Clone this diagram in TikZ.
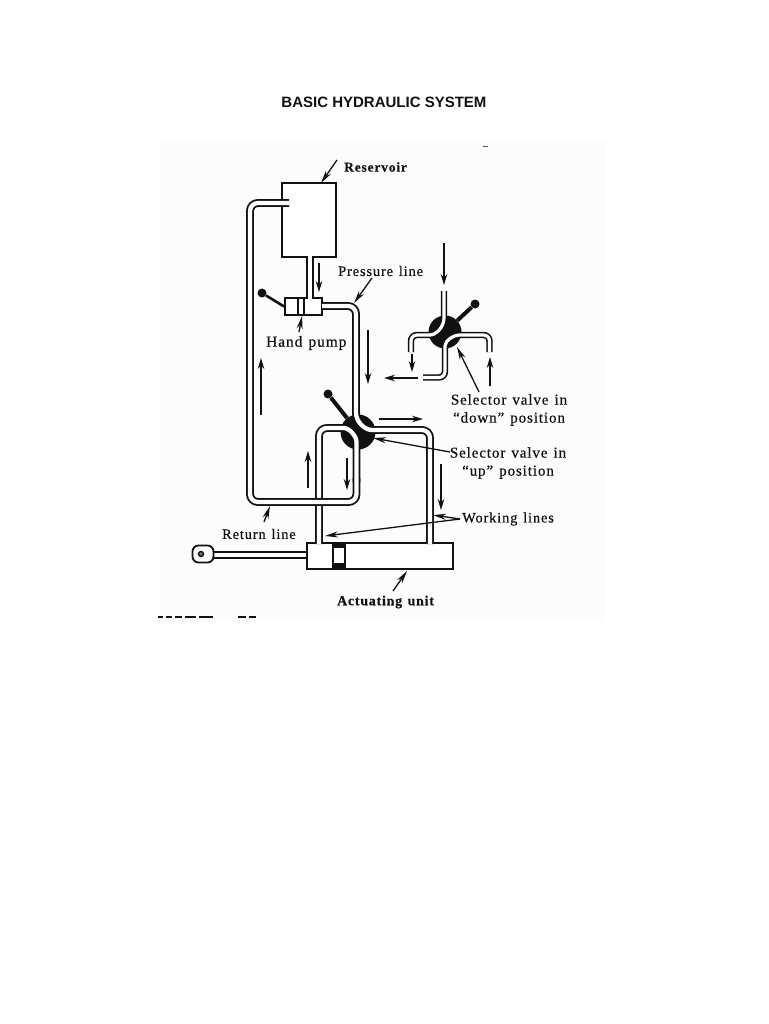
\documentclass[tikz,border=0pt]{standalone}
\usepackage{fontspec}
\setmainfont{Liberation Serif}
\newfontfamily\titlefont{Liberation Sans}
\newfontfamily\labelfont[LetterSpace=6,WordSpace=1.3,FakeBold=0.5]{Liberation Serif}
\usetikzlibrary{arrows.meta}
\definecolor{ink}{HTML}{111111}
\tikzset{
  box/.style={draw=ink,line width=1.9pt,fill=white,inner sep=0pt,rectangle},
  pipe/.style={draw=ink,line width=1.8pt,double=white,double distance=4.3pt,rounded corners=8pt},
  pipethin/.style={draw=ink,line width=1.6pt,double=white,double distance=3.2pt,rounded corners=6pt},
  flow/.style={draw=ink,line width=1.1pt,-{Stealth[length=11pt,width=6.5pt]}},
  pointer/.style={draw=ink,line width=1.3pt,-{Stealth[length=13pt,width=6pt]}},
  lever/.style={draw=ink,line width=4pt},
  knob/.style={circle,fill=ink,inner sep=0pt,minimum size=9pt},
  blob/.style={circle,fill=ink,inner sep=0pt,minimum size=35pt},
  lbl/.style={font=\labelfont\fontsize{14.4}{17}\selectfont,text=ink,align=center,inner sep=0pt}
}
\begin{document}
\begin{tikzpicture}[x=1pt,y=-1pt]
\useasboundingbox (0,0) rectangle (768,1024);
\fill[white] (0,0) rectangle (768,1024);
\fill[black!1] (160,140) rectangle (606,622);
\node[font=\titlefont\bfseries\fontsize{15}{17}\selectfont,text=ink,inner sep=0pt] (title) at (384,102) {BASIC HYDRAULIC SYSTEM};

% actuating unit
\node[draw=ink,line width=1.6pt,minimum width=100pt,minimum height=6pt,inner sep=0pt,fill=white] (rod) at (260,555) {};
\node[box,minimum width=146pt,minimum height=26pt] (actuator) at (380,556) {};
\node[draw=ink,line width=1.2pt,fill=white,inner sep=0pt,minimum width=12pt,minimum height=26pt] (piston) at (339,556) {};
\fill[ink] (333,543) rectangle (345,548);
\fill[ink] (333,563) rectangle (345,569);
\node[draw=ink,line width=1.8pt,fill=white,rounded corners=6pt,minimum width=21pt,minimum height=17pt,inner sep=0pt] (eye) at (203,554) {};
\node[circle,draw=ink,line width=1.4pt,fill=ink!60,inner sep=0pt,minimum size=5pt] (eyehole) at (201,554) {};

% reservoir and pump
\node[box,minimum width=54pt,minimum height=74pt] (reservoir) at (309,220) {};
\node[box,minimum width=37pt,minimum height=17pt] (pump) at (303.5,306.5) {};
\node[draw=ink,line width=1.6pt,minimum width=6pt,minimum height=17pt,inner sep=0pt] (pumpseal) at (301,306.5) {};
\node[knob] (pumpknob) at (262,293) {};
\draw[lever,line width=2.6pt] (pumpknob) -- (pump.west);
\coordinate (outTop) at (310,256);
\coordinate (outBot) at (310,299);
\draw[pipe] (outTop) -- (outBot);

% up-position valve
\node[blob] (valve) at (358,432) {};
\node[knob] (valveknob) at (328,394) {};
\draw[lever] (valveknob) -- (valve);
\coordinate (retTop) at (289,203);
\coordinate (actL) at (319,544);
\coordinate (actR) at (430,544);
\coordinate (pumpOut) at (322,306);
\draw[pipe] (actL) -- (319,428) -- (336,428) .. controls (349,428) and (356.5,436) .. (356.5,450) -- (356.5,482);
\draw[pipe] (356.5,478) -- (356.5,502) -- (250,502) -- (250,203) -- (retTop);
\draw[pipe] (pumpOut) -- (356,306) -- (356,405) .. controls (356,421) and (364,430) .. (380,430) -- (430,430) -- (actR);

% down-position valve
\node[blob,minimum size=33pt] (valveB) at (445,332) {};
\node[knob] (valveBknob) at (475,304) {};
\draw[lever] (valveBknob) -- (valveB);
\coordinate (bTop) at (444,291);
\coordinate (bLeft) at (411,352);
\coordinate (bRight) at (489.5,352);
\coordinate (bOut) at (423,377.5);
\draw[pipethin] (bTop) -- (444,312) .. controls (444,327) and (436,335) .. (424,335) -- (411,335) -- (bLeft);
\draw[pipethin] (bRight) -- (489.5,335) -- (466,335) .. controls (453,335) and (445,341) .. (445,352) -- (445,377.5) -- (bOut);

% flow arrows
\draw[flow] (319,263) -- (319,292);
\draw[flow] (368,330) -- (368,384);
\draw[flow] (261,415) -- (261,358);
\draw[flow] (379,419) -- (423,419);
\draw[flow] (308,488) -- (308,451);
\draw[flow] (347,458) -- (347,490);
\draw[flow] (441,464) -- (441,510);
\draw[flow] (444,243) -- (444,285);
\draw[flow] (412,354) -- (412,372);
\draw[flow] (418,378) -- (384,378);
\draw[flow] (490,386) -- (490,357);

% labels
\node[lbl,anchor=west,font=\labelfont\bfseries\fontsize{13.5}{17}\selectfont] (lres) at (344,167) {Reservoir};
\node[lbl,anchor=west] (lpress) at (338,271) {Pressure line};
\node[lbl,anchor=west,font=\labelfont\fontsize{15.4}{17}\selectfont] (lhand) at (266,343) {Hand pump};
\node[lbl,font=\labelfont\fontsize{15}{18}\selectfont] (lsd) at (509,410) {Selector valve in\\“down” position};
\node[lbl,font=\labelfont\fontsize{15}{18}\selectfont] (lsu) at (508,463) {Selector valve in\\“up” position};
\node[lbl,anchor=west] (lwork) at (462,519) {Working lines};
\node[lbl,anchor=west] (lret) at (222,534) {Return line};
\node[lbl,anchor=west,font=\labelfont\bfseries\fontsize{13.8}{17}\selectfont] (lact) at (337,602) {Actuating unit};

% pointers
\coordinate (pRes) at (337,160);
\draw[pointer] (pRes) -- (321,183);
\coordinate (pPress) at (372,278);
\draw[pointer] (pPress) -- (354,303);
\draw[pointer] (299,332) -- (302,316);
\draw[pointer] (479,392) -- (457,347);
\draw[pointer] (450,452) -- (373,438);
\coordinate (pWork) at (460,519);
\draw[pointer] (pWork) -- (325,536);
\draw[pointer] (pWork) -- (433,515);
\draw[pointer] (264,522) -- (270,506);
\draw[pointer] (393,591) -- (407,571);

% scan remnants
\draw[ink,line width=1.3pt] (158,617) -- (163,617) (166,617) -- (172,617) (175,617) -- (182,617) (185,617) -- (196,617) (199,617) -- (213,617) (238,617) -- (246,617) (249,617) -- (256,617);
\draw[ink!70,line width=0.8pt] (483,146) -- (488,146);
\end{tikzpicture}
\end{document}
